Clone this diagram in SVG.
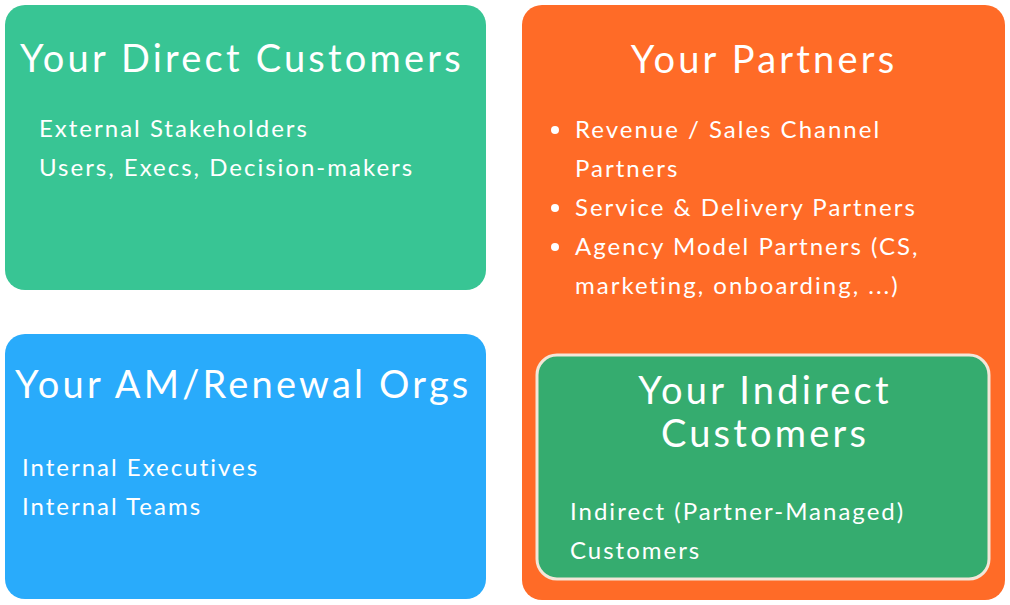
<svg xmlns="http://www.w3.org/2000/svg" width="1010" height="605" viewBox="0 0 1010 605">
<style>
text{font-family:Lato,"Open Sans",sans-serif;fill:#fff}
.t{font-size:38px;letter-spacing:3.2px}
.b{font-size:24px;letter-spacing:2px}
</style>
<rect width="1010" height="605" fill="#fff"/>
<g id="direct">
<rect x="5" y="5" width="481" height="285" rx="20" fill="#38C594"/>
<text class="t" x="20" y="72">Your Direct Customers</text>
<text class="b" x="39" y="137">External Stakeholders</text>
<text class="b" x="39" y="176">Users, Execs, Decision-makers</text>
</g>
<g id="am">
<rect x="5" y="334" width="481" height="265" rx="20" fill="#29ABFB"/>
<text class="t" x="15" y="398">Your AM/Renewal Orgs</text>
<text class="b" x="22" y="476">Internal Executives</text>
<text class="b" x="22" y="515">Internal Teams</text>
</g>
<g id="partners">
<rect x="522" y="5" width="483" height="595" rx="20" fill="#FF6B27"/>
<text class="t" x="764" y="73" text-anchor="middle">Your Partners</text>
<circle cx="555" cy="130" r="4" fill="#fff"/>
<text class="b" x="575" y="138">Revenue / Sales Channel</text>
<text class="b" x="575" y="177">Partners</text>
<circle cx="555" cy="208" r="4" fill="#fff"/>
<text class="b" x="575" y="216">Service &amp; Delivery Partners</text>
<circle cx="555" cy="247" r="4" fill="#fff"/>
<text class="b" x="575" y="255">Agency Model Partners (CS,</text>
<text class="b" x="575" y="294">marketing, onboarding, ...)</text>
</g>
<g id="indirect">
<rect x="537" y="355" width="452" height="224" rx="20" fill="#35AC6F" stroke="#F3E6D8" stroke-width="3"/>
<text class="t" x="765" y="404" text-anchor="middle">Your Indirect</text>
<text class="t" x="765" y="447" text-anchor="middle">Customers</text>
<text class="b" x="570" y="520">Indirect (Partner-Managed)</text>
<text class="b" x="570" y="559">Customers</text>
</g>
<g id="connectors"/>
</svg>
